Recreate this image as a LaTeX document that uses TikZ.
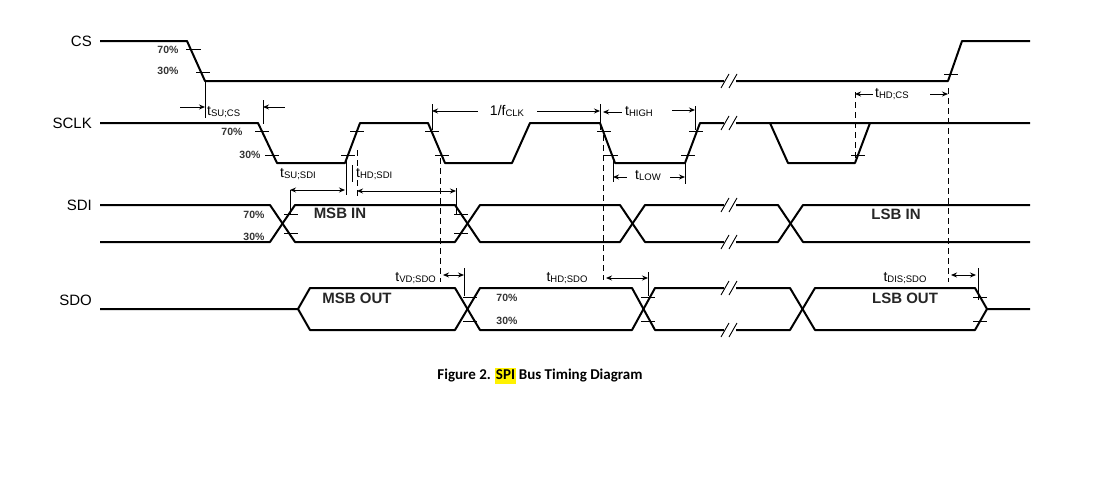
\documentclass[tikz,border=0pt]{standalone}
\usepackage{fontspec}
\setmainfont{Liberation Sans}
\newfontfamily\capfont{Carlito}
\usetikzlibrary{arrows.meta}
\begin{document}
\begin{tikzpicture}[x=1pt,y=-1pt,
  sig/.style={line width=2pt,line join=round},
  dimline/.style={line width=0.9pt,{Stealth[length=6pt,width=5pt]}-{Stealth[length=6pt,width=5pt]}},
  larr/.style={line width=0.9pt,{Stealth[length=6pt,width=5pt]}-},
  rarr/.style={line width=0.9pt,-{Stealth[length=6pt,width=5pt]}},
  thin/.style={line width=0.9pt},
  dsh/.style={line width=0.9pt,dash pattern=on 6pt off 4pt},
  tick/.style={line width=1pt},
  lbl/.style={font=\fontsize{15}{15}\selectfont,anchor=east,inner sep=0pt},
  pct/.style={font=\fontsize{10.5}{10.5}\selectfont\bfseries,text=black!80,inner sep=0pt},
  tl/.style={font=\fontsize{14}{14}\selectfont,inner sep=0pt},
  big/.style={font=\fontsize{15}{15}\selectfont\bfseries,text=black!85,inner sep=0pt}]
\useasboundingbox (0,0) rectangle (1111,485);
\newcommand{\tsub}[2]{#1{\fontsize{9.5}{9.5}\selectfont\raisebox{-1pt}{#2}}}
\newcommand{\brkmark}[2]{\fill[white] (#1-6,#2-6) rectangle (#1+6,#2+6);
  \draw[thin] (#1-9,#2+7) -- (#1-1,#2-7); \draw[thin] (#1-1,#2+7) -- (#1+7,#2-7);}
% labels
\node[lbl] (lcs) at (92,41) {CS};
\node[lbl] (lsclk) at (92,123) {SCLK};
\node[lbl] (lsdi) at (92,205) {SDI};
\node[lbl] (lsdo) at (92,300) {SDO};
% CS
\draw[sig] (100,41) -- (187,41) -- (205,81) -- (948,81) -- (962,41) -- (1030,41);
\brkmark{730}{81}
\draw[tick] (186,49) -- (201,49); \draw[tick] (196,72) -- (210,72);
\draw[tick] (944,74) -- (958,74);
\node[pct] at (168,50) {70\%}; \node[pct] at (168,71) {30\%};
% SCLK
\draw[sig] (100,123) -- (258,123) -- (277,163) -- (345,163) -- (360,123) -- (428,123) -- (445,163) -- (512,163) -- (530,123) -- (600,123) -- (615,163) -- (685,163) -- (700,123) -- (1030,123);
\draw[sig] (770,123) -- (788,163) -- (855,163) -- (870,123);
\brkmark{730}{123}
\foreach \x/\y in {262/131,272/155,348/155,357/131,432/131,442/155,604/131,611/155,688/155,696/131,858/155}
  \draw[tick] (\x-7,\y) -- (\x+7,\y);
\node[pct] at (232,132) {70\%}; \node[pct] at (250,155) {30\%};
% SDI
\draw[sig] (100,205) -- (270,205) -- (295,242) -- (455,242) -- (480,205) -- (620,205) -- (645,242) -- (778,242) -- (803,205) -- (1030,205);
\draw[sig] (100,242) -- (270,242) -- (295,205) -- (455,205) -- (480,242) -- (620,242) -- (645,205) -- (778,205) -- (803,242) -- (1030,242);
\brkmark{730}{205} \brkmark{730}{242}
\foreach \x/\y in {290/214,290/233,460/214,460/233}
  \draw[tick] (\x-6,\y) -- (\x+8,\y);
\node[pct] at (254,215) {70\%}; \node[pct] at (254,237) {30\%};
\node[big] at (340,213) {MSB IN};
\node[big] at (896,214) {LSB IN};
% SDO
\draw[sig] (100,309) -- (298,309) -- (310,288) -- (455,288) -- (480,330) -- (632,330) -- (655,288) -- (790,288) -- (815,330) -- (975,330) -- (987,309) -- (1030,309);
\draw[sig] (298,309) -- (310,330) -- (455,330) -- (480,288) -- (632,288) -- (655,330) -- (790,330) -- (815,288) -- (975,288) -- (987,309);
\brkmark{730}{288} \brkmark{730}{330}
\foreach \x/\y in {470/297,470/321,648/297,648/321,980/297,980/321}
  \draw[tick] (\x-7,\y) -- (\x+7,\y);
\node[pct] at (507,298) {70\%}; \node[pct] at (507,321) {30\%};
\node[big] at (357,298) {MSB OUT};
\node[big] at (905,298) {LSB OUT};
% tSU;CS
\coordinate (a1) at (180,107); \coordinate (a2) at (205,107);
\draw[rarr] (a1) -- (a2); \draw[thin] (205,81) -- (205,118);
\node[tl,anchor=west] at (207,112) {\tsub{t}{SU;CS}};
\draw[larr] (263,107) -- (285,107); \draw[thin] (263,100) -- (263,124);
% tSU;SDI / tHD;SDI
\node[tl] at (298,174) {\tsub{t}{SU;SDI}};
\draw[dimline] (290,190) -- (345,190); \draw[thin] (290,190) -- (290,214); \draw[thin] (346,160) -- (346,195);
\draw[dsh] (357,150) -- (357,196);
\draw[thin] (352,165) -- (352,182);
\node[tl,anchor=west] at (356,174) {\tsub{t}{HD;SDI}};
\draw[dimline] (357,191) -- (456,191); \draw[thin] (456,188) -- (456,214);
% 1/fclk
\draw[thin] (432,104) -- (432,130); \draw[thin] (600,104) -- (600,130);
\draw[larr] (432,111) -- (478,111); \draw[rarr] (537,111) -- (600,111);
\node[tl] at (507,111) {1/\tsub{f}{CLK}};
% tHIGH
\draw[larr] (603,112) -- (622,112); \node[tl,anchor=west] at (625,112) {\tsub{t}{HIGH}};
\draw[rarr] (672,110) -- (695,110); \draw[thin] (695,106) -- (695,130);
% tLOW
\draw[thin] (613,160) -- (613,182); \draw[thin] (685,160) -- (685,184);
\draw[larr] (613,177) -- (627,177); \node[tl] at (648,176) {\tsub{t}{LOW}};
\draw[rarr] (670,177) -- (685,177);
% dashed lines
\draw[dsh] (440,158) -- (440,282);
\draw[dsh] (603,135) -- (603,280);
\draw[dsh] (855,92) -- (855,158);
\draw[dsh] (948,88) -- (948,282);
% tVD;SDO
\node[tl,anchor=east] at (436,278) {\tsub{t}{VD;SDO}};
\draw[dimline] (443,275) -- (464,275); \draw[thin] (464,268) -- (464,296);
% tHD;SDO
\node[tl] at (567,278) {\tsub{t}{HD;SDO}};
\draw[dimline] (606,278) -- (648,278); \draw[thin] (648,272) -- (648,296);
% tHD;CS
\draw[larr] (855,94) -- (873,94); \node[tl,anchor=west] at (875,94) {\tsub{t}{HD;CS}};
\draw[rarr] (930,94) -- (948,94);
% tDIS;SDO
\node[tl] at (905,278) {\tsub{t}{DIS;SDO}};
\draw[dimline] (951,275) -- (976,275); \draw[thin] (978,268) -- (978,300);
% caption
\node[font=\capfont\fontsize{15}{15}\selectfont\bfseries,inner sep=0pt] (cap) at (540,376)
  {Figure 2. {\setlength{\fboxsep}{0.5pt}\colorbox{yellow}{\strut SPI}} Bus Timing Diagram};
\end{tikzpicture}
\end{document}
